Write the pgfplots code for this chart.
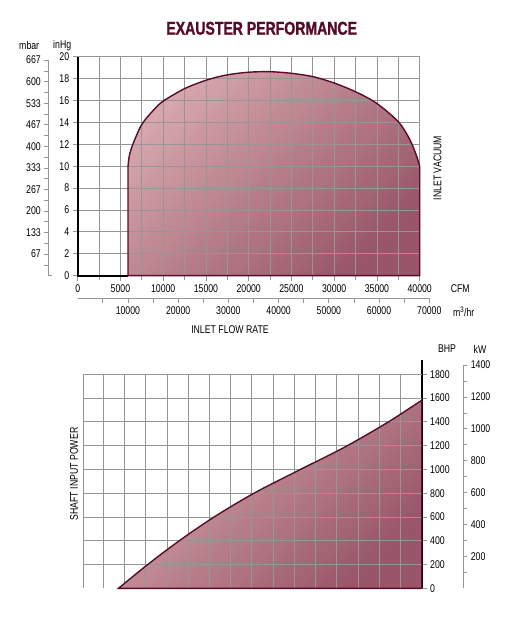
\documentclass[border=0pt]{standalone}
\usepackage{fontspec}
\setmainfont{Liberation Sans}[FakeStretch=0.78]
\newfontfamily\titlefont{Liberation Sans Bold}[FakeStretch=0.76, FakeBold=1.2]
\usepackage{pgfplots}
\pgfplotsset{compat=1.18}
\definecolor{maroon}{RGB}{90,10,42}
\definecolor{titlec}{RGB}{85,12,42}
\definecolor{fillA}{RGB}{214,166,172}
\definecolor{fillB}{RGB}{152,86,104}
\definecolor{gridc}{RGB}{150,150,150}
\newcommand{\lbl}{\fontsize{11.2}{13}\selectfont}
\begin{document}
\begin{tikzpicture}
\useasboundingbox (0pt,0pt) rectangle (510pt,634pt);
\pgfplotsset{every axis/.append style={scale only axis, anchor=south west, clip=false,
  scaled ticks=false,
  tick label style={font=\lbl}, /pgf/number format/assume math mode=true}}

% ---------- top chart: fill ----------
\begin{axis}[at={(77.7pt,358.3pt)}, width=342pt, height=219pt,
  xmin=0,xmax=40000,ymin=0,ymax=20, hide axis]
\addplot[smooth, draw=none, top color=fillA, bottom color=fillB, shading angle=45]
 coordinates {(5886,10) (6050,11.0) (6503,12.1) (7485,13.8) (8842,15.1) (10012,15.95)
 (12550,17.1) (15088,17.87) (17427,18.33) (19954,18.58) (22492,18.63) (25029,18.48)
 (27556,18.17) (30094,17.57) (32632,16.75) (34971,15.74) (37497,14.06) (38866,12.4)
 (39650,10.9) (40000,10)} \closedcycle;
\end{axis}

% ---------- top chart: grid, ticks, outline ----------
\begin{axis}[at={(77.7pt,358.3pt)}, width=342pt, height=219pt,
  xmin=0,xmax=40000,ymin=0,ymax=20,
  axis line style={draw=none},
  xtick={0,5000,10000,15000,20000,25000,30000,35000,40000},
  xticklabels={0,5000,10000,15000,20000,25000,30000,35000,40000},
  minor xtick={2500,7500,12500,17500,22500,27500,32500,37500},
  ytick={0,2,4,6,8,10,12,14,16,18,20},
  tick pos=left,
  grid=both, major grid style={gridc,line width=0.8pt}, minor grid style={gridc,line width=0.8pt},
  tick align=outside, major tick length=5pt, minor tick length=4pt,
  tick style={gridc,line width=0.8pt}]
\addplot[black, line width=2pt] coordinates {(0,20) (0,0) (5886,0)};
\addplot[smooth, draw=maroon, line width=1.4pt]
 coordinates {(5886,10) (6050,11.0) (6503,12.1) (7485,13.8) (8842,15.1) (10012,15.95)
 (12550,17.1) (15088,17.87) (17427,18.33) (19954,18.58) (22492,18.63) (25029,18.48)
 (27556,18.17) (30094,17.57) (32632,16.75) (34971,15.74) (37497,14.06) (38866,12.4)
 (39650,10.9) (40000,10)} \closedcycle;
\end{axis}

% ---------- mbar axis ----------
\begin{axis}[at={(48.3pt,358.3pt)}, width=4pt, height=215.57pt,
  xmin=0,xmax=1,ymin=0,ymax=666.67, hide x axis, axis y line*=left,
  y axis line style={gridc,line width=0.8pt},
  ytick={66.67,133.33,200,266.67,333.33,400,466.67,533.33,600,666.67},
  yticklabels={67,133,200,267,333,400,467,533,600,667},
  minor ytick={33.33,100,166.67,233.33,300,366.67,433.33,500,566.67,633.33},
  tick align=outside, major tick length=4pt, minor tick length=4pt,
  tick style={gridc,line width=0.8pt}]
\addplot[gridc, line width=0.8pt] coordinates {(0,0) (1,0)};
\end{axis}

% ---------- m3/hr axis ----------
\begin{axis}[at={(77.7pt,335.7pt)}, width=351.6pt, height=10pt,
  xmin=0,xmax=70000,ymin=0,ymax=1, hide y axis, axis x line*=bottom,
  x axis line style={gridc,line width=0.8pt},
  xtick={10000,20000,30000,40000,50000,60000,70000},
  xticklabels={10000,20000,30000,40000,50000,60000,70000},
  minor xtick={5000,15000,25000,35000,45000,55000,65000},
  tick align=outside, major tick length=5pt, minor tick length=5pt,
  tick style={gridc,line width=0.8pt}]
\addplot[draw=none] coordinates {(0,0)};
\end{axis}

% ---------- bottom chart: fill ----------
\begin{axis}[at={(83.3pt,45.7pt)}, width=338.4pt, height=228.3pt,
  xmin=150,xmax=40000,ymin=0,ymax=1920, hide axis]
\addplot[smooth, draw=none, top color=fillA, bottom color=fillB, shading angle=45]
 coordinates {(4300,0) (7737,200) (11452,400) (15558,600) (20251,800) (25726,1000)
 (31000,1190) (36089,1400) (40000,1582)} \closedcycle;
\end{axis}

% ---------- bottom chart: BHP axis ----------
\begin{axis}[at={(83.3pt,45.7pt)}, width=338.4pt, height=228.3pt,
  xmin=150,xmax=40000,ymin=0,ymax=1920, hide x axis, axis y line*=right,
  y axis line style={black,line width=2pt},
  ytick={0,200,400,600,800,1000,1200,1400,1600,1800},
  yticklabels={0,200,400,600,800,1000,1200,1400,1600,1800},
  tick align=outside, major tick length=5pt,
  tick style={gridc,line width=0.8pt}]
\addplot[draw=none] coordinates {(40000,0)};
\end{axis}

% ---------- bottom chart: grid and outline ----------
\begin{axis}[at={(83.3pt,45.7pt)}, width=338.4pt, height=214pt,
  xmin=150,xmax=40000,ymin=0,ymax=1800,
  axis line style={draw=none},
  xtick={150,2500,5000,7500,10000,12500,15000,17500,20000,22500,25000,27500,30000,32500,35000,37500},
  ytick={200,400,600,800,1000,1200,1400,1600,1800},
  xticklabels={}, yticklabels={}, major tick length=0pt,
  grid=major, major grid style={gridc,line width=0.8pt}]
\addplot[smooth, draw=maroon, line width=1.4pt]
 coordinates {(4300,0) (7737,200) (11452,400) (15558,600) (20251,800) (25726,1000)
 (31000,1190) (36089,1400) (40000,1582)} \closedcycle;
\end{axis}

% ---------- kW axis ----------
\begin{axis}[at={(459.3pt,45.7pt)}, width=4pt, height=223.2pt,
  xmin=0,xmax=1,ymin=0,ymax=1400, hide x axis, axis y line*=right,
  y axis line style={gridc,line width=0.8pt},
  ytick={200,400,600,800,1000,1200,1400},
  yticklabels={200,400,600,800,1000,1200,1400},
  minor ytick={100,300,500,700,900,1100,1300},
  tick align=outside, major tick length=4pt, minor tick length=4pt,
  tick style={gridc,line width=0.8pt}]
\addplot[draw=none] coordinates {(1,0)};
\end{axis}

% ---------- texts ----------
\node[font=\titlefont\fontsize{18.5}{20}\selectfont, text=titlec] at (261.7pt,605.7pt) {EXAUSTER PERFORMANCE};
\node[font=\lbl] at (29.2pt,588.5pt) {mbar};
\node[font=\lbl] at (62.2pt,588.5pt) {inHg};
\node[font=\lbl] at (460.3pt,345pt) {CFM};
\node[font=\lbl] at (463.7pt,322.3pt) {m\textsuperscript{3}/hr};
\node[font=\lbl] at (230pt,304pt) {INLET FLOW RATE};
\node[font=\lbl, rotate=90] at (437.5pt,466pt) {INLET VACUUM};
\node[font=\lbl, rotate=90] at (74pt,160pt) {SHAFT INPUT POWER};
\node[font=\lbl] at (447pt,285pt) {BHP};
\node[font=\lbl] at (480pt,285pt) {kW};
\end{tikzpicture}
\end{document}
